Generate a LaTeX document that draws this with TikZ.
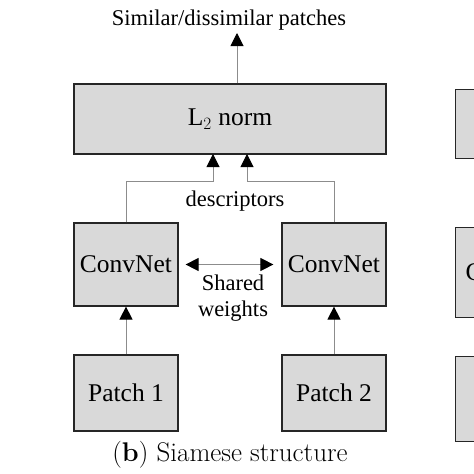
\documentclass[tikz,border=0pt]{standalone}
\usepackage{fontspec}
\newfontfamily\tnr{Liberation Serif}
\usetikzlibrary{arrows.meta}
\definecolor{boxgray}{HTML}{D9D9D9}
\definecolor{linegray}{HTML}{8C8C8C}
\tikzset{
    block/.style={draw=black!85, fill=boxgray, line width=1.2pt, minimum width=104pt, font=\tnr\fontsize{25.5}{30}\selectfont},
    conn/.style={draw=linegray, line width=1pt, -{Triangle[width=13pt,length=13pt,black]}},
    lbl/.style={font=\tnr\fontsize{22.5}{26}\selectfont, align=center}
}
\begin{document}
\begin{tikzpicture}[x=1pt,y=1pt]
        \useasboundingbox (0,0) rectangle (474,-474);
        \clip (0,0) rectangle (474,-474);
        % left panel
        \node [block, minimum width=312pt, minimum height=70pt] (norm) at (230,-119) {L$_2$ norm};
        \node [block, minimum height=83pt] (conv1) at (126,-264.5) {ConvNet};
        \node [block, minimum height=83pt] (conv2) at (334,-264.5) {ConvNet};
        \node [block, minimum height=76pt] (patch1) at (126,-393) {Patch 1};
        \node [block, minimum height=76pt] (patch2) at (334,-393) {Patch 2};
        \node [lbl] (title) at (229,-20) {Similar/dissimilar patches};
        \node [lbl] (desc) at (235,-201) {descriptors};
        \node [lbl] (shared) at (233,-298) {Shared\\weights};
        \node [font=\fontsize{27}{32}\selectfont] (caption) at (230,-455) {(\textbf{b}) Siamese structure};
        % connectors
        \coordinate (out) at (237,-33);
        \coordinate (inL) at (213,-154);
        \coordinate (inR) at (247,-154);
        \draw [conn] (out |- norm.north) -- (out);
        \draw [conn] (conv1.north) -- ++(0,41) -| (inL);
        \draw [conn] (conv2.north) -- ++(0,41) -| (inR);
        \draw [conn] (patch1) -- (conv1);
        \draw [conn] (patch2) -- (conv2);
        \draw [conn, {Triangle[width=13pt,length=13pt,black]}-{Triangle[width=13pt,length=13pt,black]}, shorten <=7pt, shorten >=8pt] (conv1.east) -- (conv2.west);
        % next panel, cut off at the edge
        \node [block, anchor=north west, minimum width=100pt, minimum height=69pt] (normc) at (455,-89) {};
        \node [block, anchor=north west, minimum width=100pt, minimum height=90pt, text width=80pt, align=left] (convc) at (455,-227) {ConvNet};
        \node [block, anchor=north west, minimum width=100pt, minimum height=85pt] (patchc) at (455,-356) {};
    \end{tikzpicture}
\end{document}
